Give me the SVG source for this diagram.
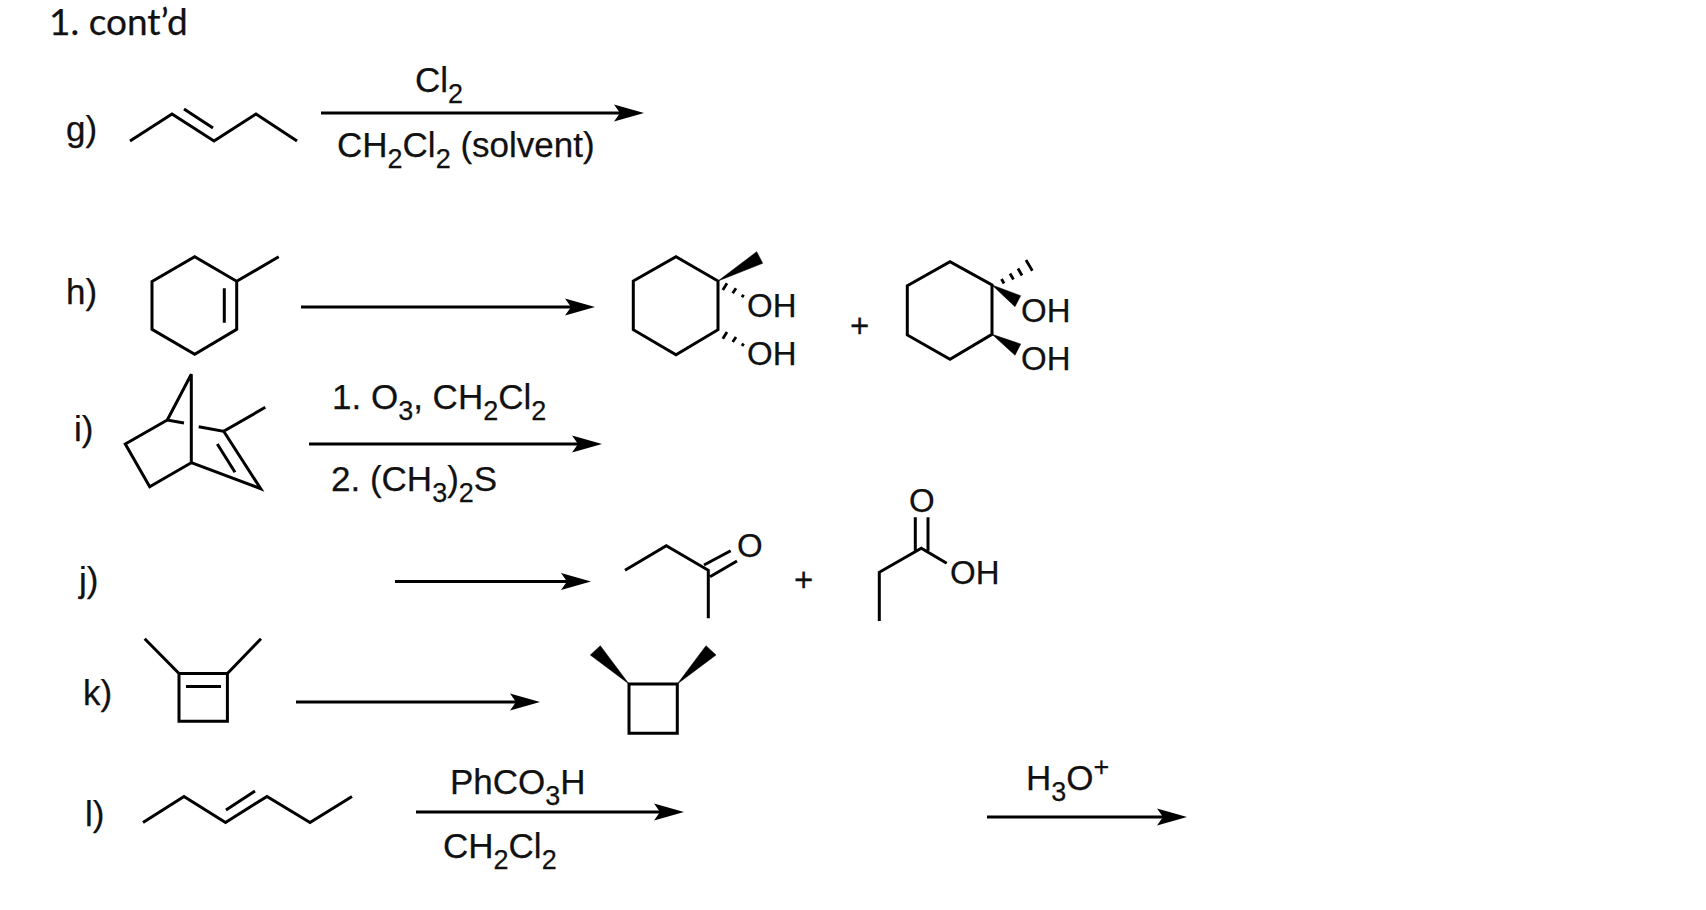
<svg xmlns="http://www.w3.org/2000/svg" width="1706" height="910" viewBox="0 0 1706 910">
<defs>
<marker id="ah" markerUnits="userSpaceOnUse" markerWidth="32" markerHeight="20" refX="6" refY="10" orient="auto" overflow="visible"><path d="M0,1.5 L30,10 L0,18.5 L6,10Z" fill="#000"/></marker>
</defs>
<style>
text{font-family:"Liberation Sans",Arial,sans-serif;font-size:35px;fill:#111;stroke:#111;stroke-width:.25}
.s{font-size:27px}
.a{font-size:33px}
.b{fill:none;stroke:#000;stroke-width:3;stroke-linejoin:miter}
.h{fill:none;stroke:#000;stroke-width:2.8}
.w{fill:#000;stroke:#000;stroke-width:.5}
.arr{fill:none;stroke:#000;stroke-width:3;marker-end:url(#ah)}
</style>
<rect width="1706" height="910" fill="#fff"/>
<text x="49" y="35" style="font-family:Lato,sans-serif;font-size:37px">1. cont’d</text>

<g id="connectors">
<line class="arr" x1="321" y1="113" x2="620" y2="113"/>
<line class="arr" x1="301" y1="307" x2="571" y2="307"/>
<line class="arr" x1="309" y1="444" x2="578" y2="444"/>
<line class="arr" x1="395" y1="581.5" x2="567" y2="581.5"/>
<line class="arr" x1="296" y1="702" x2="516" y2="702"/>
<line class="arr" x1="416" y1="812" x2="660" y2="812"/>
<line class="arr" x1="987" y1="817" x2="1163" y2="817"/>
</g>

<g id="g">
<text x="66" y="141">g)</text>
<path class="b" d="M130,141 L172,114 L214,141 L256,114 L297,141"/>
<path class="b" d="M184,109 L213,128"/>
<text x="415" y="92">Cl<tspan class="s" dy="11">2</tspan></text>
<text x="337" y="157">CH<tspan class="s" dy="11">2</tspan><tspan dy="-11">Cl</tspan><tspan class="s" dy="11">2</tspan><tspan dy="-11"> (solvent)</tspan></text>
</g>

<g id="h">
<text x="66" y="304">h)</text>
<path class="b" d="M152,281.5 L194.7,256.7 L236.7,281.3 L236.7,329.3 L194.7,354.3 L152,329.3Z M236.7,281.3 L278.7,256.7 M224.3,288.3 L224.3,322.7"/>
</g>

<g id="h-product-1">
<path class="b" d="M633.3,281 L676,256.7 L718,281 L718,329.7 L676,354.7 L633.3,329.7Z"/>
<path class="w" d="M718,281 L756.7,251.7 L762.7,263.3Z"/>
<path class="h" d="M722.8,290 L727,283.3 M732.7,293.2 L736,288.2 M742,297.3 L743.6,294.7 M722.8,338.7 L727,332 M732.7,341.9 L736,336.9 M742,346 L743.6,343.4"/>
<text class="a" x="747" y="317">OH</text>
<text class="a" x="747" y="365">OH</text>
</g>
<text class="a" x="850" y="337">+</text>

<g id="h-product-2">
<path class="b" d="M907.3,285.7 L950,261.7 L992,285 L992,334.3 L950,359.3 L907.3,335Z"/>
<path class="w" d="M992,285 L1020.7,295.7 L1015,306.7Z M992,334.3 L1020.7,344 L1015,355.3Z"/>
<path class="h" d="M1001.5,279 L1004,283.5 M1010,273.5 L1013.5,279.5 M1018,268.5 L1022,275.5 M1026,260 L1032.3,270.7"/>
<text class="a" x="1021" y="322">OH</text>
<text class="a" x="1021" y="370">OH</text>
</g>

<g id="i">
<text x="74" y="441">i)</text>
<path class="b" d="M167.3,420 L191.3,374.3 L191.3,462.7 L149.7,486.7 L125.3,444 L167.3,420 L184,423 M198.7,426.7 L223.7,431.3 L260.7,488.7 L191.3,462.7 M223.7,431.3 L265.3,407.3 M217.3,444 L235,472.3"/>
<text x="332" y="409">1. O<tspan class="s" dy="11">3</tspan><tspan dy="-11">, CH</tspan><tspan class="s" dy="11">2</tspan><tspan dy="-11">Cl</tspan><tspan class="s" dy="11">2</tspan></text>
<text x="331" y="491">2. (CH<tspan class="s" dy="11">3</tspan><tspan dy="-11">)</tspan><tspan class="s" dy="11">2</tspan><tspan dy="-11">S</tspan></text>
</g>

<g id="j">
<text x="79" y="592">j)</text>
</g>

<g id="j-product-1">
<path class="b" d="M625,570.3 L666.3,545.7 L708.3,570.3 L708.3,618.3 M704,565 L730.7,550.7 M710,576.7 L737,561"/>
<text class="a" x="737" y="557">O</text>
</g>
<text class="a" x="794" y="591">+</text>

<g id="j-product-2">
<path class="b" d="M879.3,621 L879.3,572.3 L921.3,548.3 L946.7,563.3 M915.3,517.3 L915.3,550.7 M928,517.3 L928,550.7"/>
<text class="a" x="909" y="512">O</text>
<text class="a" x="950" y="584">OH</text>
</g>

<g id="k">
<text x="83" y="705">k)</text>
<path class="b" d="M179,673.5 L227.4,673.5 L227.4,721.3 L179,721.3Z M144.7,638.7 L179,673.5 M261,638.7 L227.4,673.5 M186,686.5 L221,686.5"/>
</g>

<g id="k-product">
<path class="b" d="M629,684 L677.3,684 L677.3,733.3 L629,733.3Z"/>
<path class="w" d="M677.3,684 L706,645.7 L716,655Z M629,684 L600.3,645.7 L590.3,655Z"/>
</g>

<g id="l">
<text x="85" y="826">l)</text>
<path class="b" d="M143,822.5 L184,796.4 L225.5,822.5 L267,796.4 L310,822.5 L352,796.4 M226,810 L255,791"/>
<text x="450" y="794">PhCO<tspan class="s" dy="11">3</tspan><tspan dy="-11">H</tspan></text>
<text x="443" y="858">CH<tspan class="s" dy="11">2</tspan><tspan dy="-11">Cl</tspan><tspan class="s" dy="11">2</tspan></text>
<text x="1026" y="790">H<tspan class="s" dy="11">3</tspan><tspan dy="-11">O</tspan><tspan class="s" dy="-14">+</tspan></text>
</g>
</svg>
